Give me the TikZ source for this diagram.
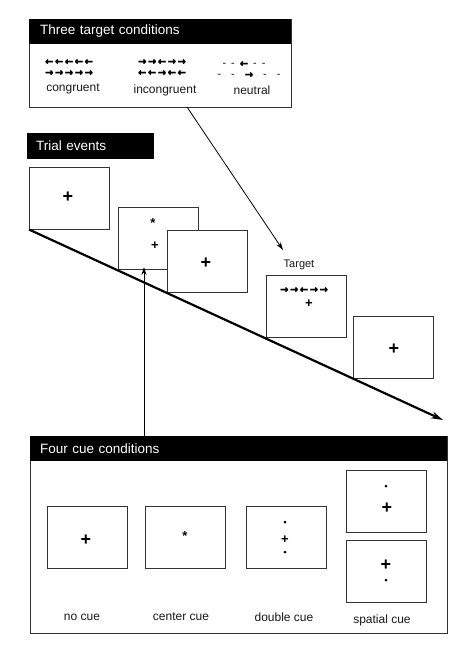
\documentclass[tikz,border=0pt]{standalone}
\usepackage{fontspec}
\setmainfont{Liberation Sans}
\newfontfamily\arrowfont[FakeBold=2.5,LetterSpace=15]{DejaVu Sans Bold}
\newfontfamily\dashfont{DejaVu Sans}
\usetikzlibrary{arrows.meta}

\tikzset{
  screen/.style={draw=black!80,line width=1pt,fill=white,minimum width=80pt,minimum height=62pt,inner sep=0pt},
  bigfix/.style={font=\bfseries\fontsize{18}{18}\selectfont,inner sep=0pt},
  smallfix/.style={font=\bfseries\fontsize{13}{13}\selectfont,inner sep=0pt},
  cuestar/.style={font=\bfseries\fontsize{13}{13}\selectfont,inner sep=0pt},
  cuedot/.style={circle,fill=black,inner sep=0pt,minimum size=3pt},
  flank/.style={font=\arrowfont\fontsize{10}{10}\selectfont,inner sep=0pt},
  caption/.style={font=\fontsize{12}{14}\selectfont,text=black!90,inner sep=0pt}
}

\begin{document}
\begin{tikzpicture}[x=1pt,y=-1pt]
\useasboundingbox (0,0) rectangle (474,654);

% panels
\begin{scope}[every node/.style={draw=black!80,line width=0.9pt,rectangle}]
    \node[minimum width=262pt,minimum height=88pt]  (tgtbox) at (160,63) {};
    \node[minimum width=417pt,minimum height=197pt] (cuebox) at (238.5,534.5) {};
\end{scope}

% headers
\begin{scope}[every node/.style={fill=black,text=white,font=\fontsize{13.5}{15}\selectfont,align=left,anchor=west,inner ysep=0pt}]
    \node[text width=240pt,inner xsep=11pt,minimum height=25pt] (tgthead)   at (29,31.5)  {Three target conditions};
    \node[text width=109pt,inner xsep=9pt,minimum height=26pt]  (trialhead) at (27,146)   {Trial events};
    \node[text width=397pt,inner xsep=10pt,minimum height=25pt] (cuehead)   at (30,448.5) {Four cue conditions};
\end{scope}

% target conditions
\node[flank] (cg1) at (69,62)  {←←←←←};
\node[flank] (cg2) at (69,73)  {→→→→→};
\node[flank] (ic1) at (162,62) {→→←→→};
\node[flank] (ic2) at (162,73) {←←→←←};
\node[flank] (nt1) at (244,64) {{\dashfont-\enspace-}\enspace←\enspace{\dashfont-\enspace-}};
\node[flank] (nt2) at (249,75) {{\dashfont-\enspace\enspace-}\enspace\enspace→\enspace\enspace{\dashfont-\enspace\enspace-}};
\node[caption] (cglab) at (73,89)  {congruent};
\node[caption] (iclab) at (165,90) {incongruent};
\node[caption] (ntlab) at (252,90) {neutral};

% trial events
\node[screen] (S1) at (69.5,198) {};
\node[screen] (S2) at (158,238)  {};
\node[screen] (S3) at (207.5,261) {};
\node[screen] (S4) at (306,306.5) {};
\node[screen] (S5) at (393,347)  {};
\node[bigfix]   (f1) at (68,197)  {+};
\node[cuestar]  (s2) at (153,223) {*};
\node[smallfix] (f2) at (155,246) {+};
\node[bigfix]   (f3) at (206,263) {+};
\node[flank]    (tg) at (304,290) {→→←→→};
\node[smallfix] (f4) at (309,304) {+};
\node[bigfix]   (f5) at (394,349) {+};
\node[caption,font=\fontsize{11}{13}\selectfont] (tglab) at (299,265) {Target};

% cue conditions
\node[screen] (C1) at (87.5,537) {};
\node[screen] (C2) at (185.5,537) {};
\node[screen] (C3) at (286,537) {};
\node[screen] (C4) at (386,501) {};
\node[screen] (C5) at (386,571.5) {};
\node[bigfix]  (c1f) at (86,540)  {+};
\node[cuestar] (c2s) at (185,536) {*};
\node[cuedot]  (c3a) at (285,522) {};
\node[smallfix] (c3f) at (285,540) {+};
\node[cuedot]  (c3b) at (285,552) {};
\node[cuedot]  (c4d) at (386,486) {};
\node[bigfix]  (c4f) at (387,508) {+};
\node[bigfix]  (c5f) at (386,565) {+};
\node[cuedot]  (c5d) at (386,580) {};
\node[caption] (c1l) at (82,617)  {no cue};
\node[caption] (c2l) at (181,617) {center cue};
\node[caption] (c3l) at (284,617) {double cue};
\node[caption] (c4l) at (382,620) {spatial cue};

\coordinate (tgtout)  at (187,107);
\coordinate (tgttip)  at (283,250);
\coordinate (cueout)  at (144,436);
\coordinate (cuetip)  at (144,267);
\coordinate (timeend) at (443,420);

\begin{scope}[>={Stealth[black,length=8pt,width=5pt]},
              every edge/.style={draw=black,line width=0.8pt}]
    \path [->] (tgtout) edge (tgttip);
    \path [->] (cueout) edge (cuetip);
    \path [-{Stealth[black,length=12pt,width=7pt]}] (S1.south west) edge[line width=2.2pt] (timeend);
\end{scope}
\end{tikzpicture}
\end{document}
